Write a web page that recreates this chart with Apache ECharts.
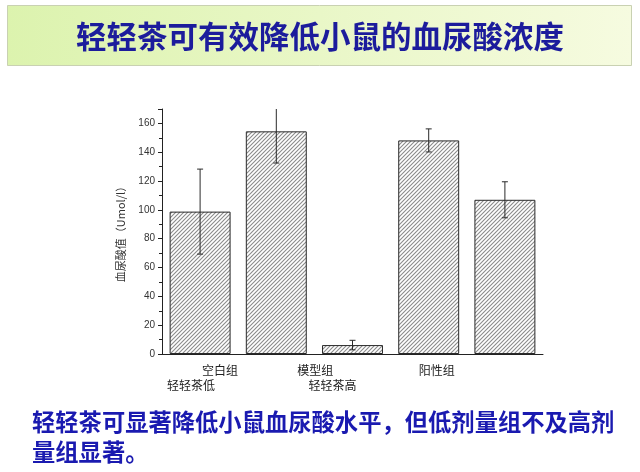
<!DOCTYPE html>
<html><head><meta charset="utf-8">
<script src="https://cdn.jsdelivr.net/npm/echarts@6/dist/echarts.min.js"></script>
<style>html,body{margin:0;padding:0;background:#fff;}#c{width:640px;height:472px;}</style>
</head><body><div id="c"></div>
<script>
var categories = ['c1','c2','c3','c4','c5'];
var values = [98.8, 154.5, 6.2, 148.2, 107];
var errors = [29.5, 22, 3.3, 8, 12.5];
var yTicks = [0, 20, 40, 60, 80, 100, 120, 140, 160];
var titleText = '轻轻茶可有效降低小鼠的血尿酸浓度';
var yName = '血尿酸值（Umol/l）';
var catLabelsRow1 = [['空白组', 0], ['模型组', 1], ['阳性组', 3]];
var catLabelsRow2 = [['轻轻茶低', 0], ['轻轻茶高', 2]];
var noteLines = ['轻轻茶可显著降低小鼠血尿酸水平，但低剂量组不及高剂', '量组显著。'];

var pc = document.createElement('canvas');
pc.width = 4; pc.height = 4;
var g = pc.getContext('2d');
g.fillStyle = '#ffffff'; g.fillRect(0,0,4,4);
g.strokeStyle = '#8a8a8a'; g.lineWidth = 1.1;
g.beginPath(); g.moveTo(-1,5); g.lineTo(5,-1); g.stroke();
g.beginPath(); g.moveTo(-1,1); g.lineTo(1,-1); g.stroke();
g.beginPath(); g.moveTo(3,5); g.lineTo(5,3); g.stroke();

var chart = echarts.init(document.getElementById('c'), null, {renderer:'canvas'});
var cjk = '"Noto Sans CJK SC", sans-serif';
var option = {
  backgroundColor: '#ffffff',
  animation: false,
  grid: {left: 162, right: 97, top: 109, bottom: 118},
  xAxis: {
    type: 'category', data: categories,
    axisLine: {lineStyle: {color: '#222', width: 1}},
    axisTick: {alignWithLabel: true, length: 4, lineStyle: {color: '#222'}},
    axisLabel: {show: false}
  },
  yAxis: {
    type: 'value', min: 0, max: 170, interval: 20,
    name: yName, nameLocation: 'middle', nameGap: 36, nameRotate: 90,
    nameTextStyle: {fontFamily: cjk, fontSize: 11, color: '#333'},
    axisLine: {show: true, lineStyle: {color: '#222'}},
    axisTick: {show: true, length: 4, lineStyle: {color: '#222'}},
    minorTick: {show: true, splitNumber: 2, length: 3, lineStyle: {color: '#222'}},
    splitLine: {show: false},
    axisLabel: {fontFamily: '"Liberation Sans", Arial, sans-serif', fontSize: 10, color: '#333', margin: 7,
      formatter: function(v){ return yTicks.indexOf(v) >= 0 ? String(v) : ''; }}
  },
  series: [
    {type: 'bar', data: values, barWidth: '80%',
     itemStyle: {color: {image: pc, repeat: 'repeat'}, borderColor: '#2a2a2a', borderWidth: 1}},
    {type: 'custom', clip: true,
     data: values.map(function(v,i){ return [i, v - errors[i], v + errors[i]]; }),
     renderItem: function(params, api){
       var lo = api.coord([api.value(0), api.value(1)]);
       var hi = api.coord([api.value(0), api.value(2)]);
       var w = 3;
       var st = {stroke: '#2a2a2a', lineWidth: 1};
       return {type: 'group', children: [
         {type: 'line', shape: {x1: hi[0], y1: hi[1], x2: lo[0], y2: lo[1]}, style: st},
         {type: 'line', shape: {x1: hi[0]-w, y1: hi[1], x2: hi[0]+w, y2: hi[1]}, style: st},
         {type: 'line', shape: {x1: lo[0]-w, y1: lo[1], x2: lo[0]+w, y2: lo[1]}, style: st}
       ]};
     }, z: 5}
  ]
};
chart.setOption(option);

var graphics = [
  {type: 'rect', shape: {x: 7.5, y: 5.5, width: 624, height: 60},
   style: {fill: new echarts.graphic.LinearGradient(0,0,1,0,[{offset:0,color:'#dcf3ae'},{offset:1,color:'#f6fbe0'}]), stroke: '#c9d1b2', lineWidth: 1}, z: 0},
  {type: 'text', x: 320, y: 36, style: {text: titleText, font: 'bold 30.5px ' + cjk, fill: '#1c1c9c', textAlign: 'center', textVerticalAlign: 'middle'}, z: 1}
];
function addCat(list, dy, dx){
  list.forEach(function(p){
    var pt = chart.convertToPixel({gridIndex: 0}, [p[1], 0]);
    graphics.push({type: 'text', x: pt[0] + dx[p[0]], y: pt[1] + dy,
      style: {text: p[0], font: '12px ' + cjk, fill: '#222', textAlign: 'center', textVerticalAlign: 'middle'}});
  });
}
addCat(catLabelsRow1, 16, {'空白组': 20, '模型组': 39, '阳性组': 8});
addCat(catLabelsRow2, 31, {'轻轻茶低': -9, '轻轻茶高': -20});
noteLines.forEach(function(t, i){
  graphics.push({type: 'text', x: 32, y: 422 + i*30, style: {text: t, font: 'bold 23.3px ' + cjk, fill: '#1a1ab0', textAlign: 'left', textVerticalAlign: 'middle'}});
});
chart.setOption({graphic: graphics});
</script></body></html>
